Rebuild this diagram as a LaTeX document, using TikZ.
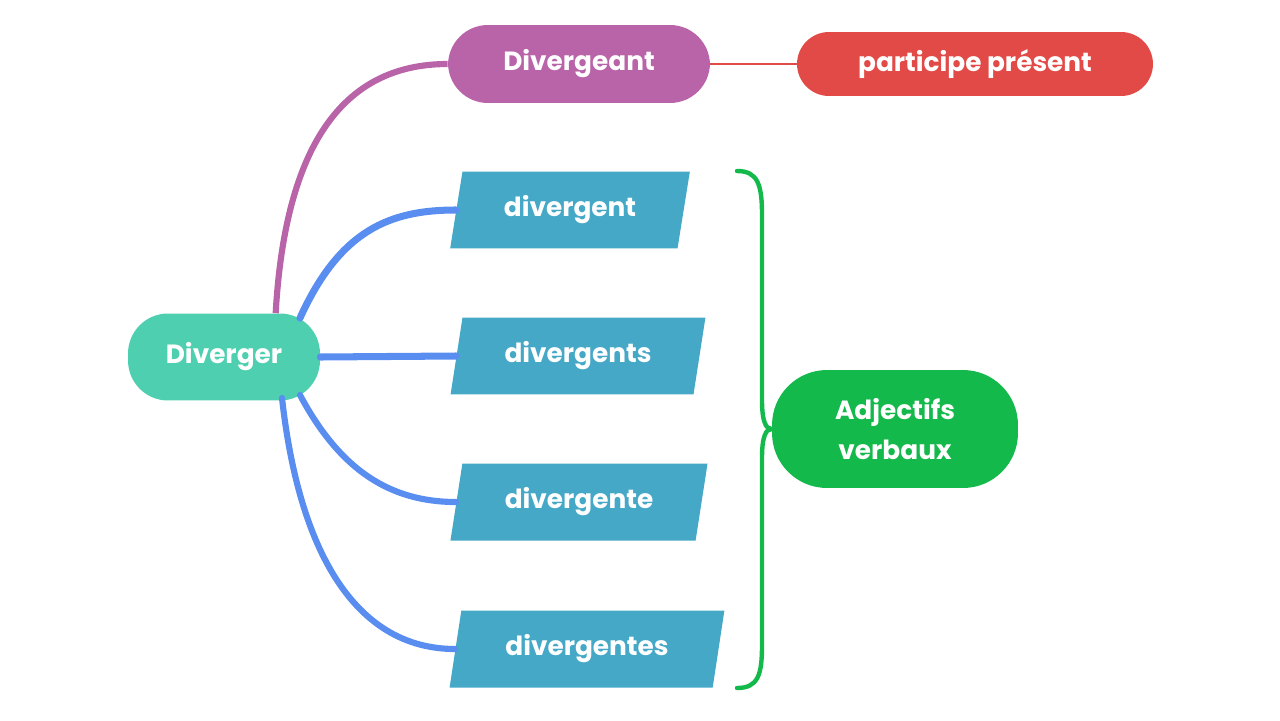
\documentclass[tikz,border=0pt]{standalone}
\usepackage{fontspec}
\setmainfont{Poppins}
\usetikzlibrary{shapes.geometric}
\definecolor{teal}{HTML}{4ECFB0}
\definecolor{violet}{HTML}{B963A8}
\definecolor{rouge}{HTML}{E24A47}
\definecolor{bleu}{HTML}{45A8C7}
\definecolor{lien}{HTML}{5A8DF0}
\definecolor{vert}{HTML}{14B94B}
\tikzset{
  txt/.style={text=white, font=\bfseries\fontsize{15}{19}\selectfont, align=center, inner sep=0pt},
  bulle/.style={txt, rounded corners=0.8cm, minimum height=1.6cm},
  forme/.style={txt, trapezium, trapezium left angle=75, trapezium right angle=105,
    trapezium stretches=true, fill=bleu, minimum height=1.54cm},
  branche/.style={lien, line cap=round}
}
\begin{document}
\begin{tikzpicture}[x=0.02cm, y=-0.02cm]
    \useasboundingbox (0,0) rectangle (1280,720);

    % main nodes
    \node[bulle, fill=teal, minimum width=3.84cm, minimum height=1.74cm] (dvr) at (224,357) {Diverger};
    \node[bulle, fill=violet, minimum width=5.24cm, minimum height=1.56cm] (dga) at (579,64) {Divergeant};
    \node[bulle, fill=rouge, minimum width=7.12cm, minimum height=1.28cm, rounded corners=0.64cm] (pp) at (975,64) {participe présent};
    \node[bulle, fill=vert, minimum width=4.92cm, minimum height=2.36cm, rounded corners=1.1cm] (adj) at (895,429) {Adjectifs\\[4pt]verbaux};

    % the four forms
    \node[forme, minimum width=4.8cm] (f1) at (570,210) {divergent};
    \node[forme, minimum width=5.12cm] (f2) at (578,356) {divergents};
    \node[forme, minimum width=5.16cm] (f3) at (579,502) {divergente};
    \node[forme, minimum width=5.5cm] (f4) at (587,649) {divergentes};

    % links
    \draw[violet, line width=3.5pt] (dvr.north west) ++(148,0) coordinate (p0)
        (p0) .. controls (285,150) and (340,64) .. (dga.west);
    \draw[rouge, line width=1.5pt] (dga.east) -- (pp.west);
    \draw[branche, line width=4pt] (300,318) .. controls (340,230) and (390,210) .. (f1.west);
    \draw[branche, line width=4pt] (dvr.east) -- (f2.west);
    \draw[branche, line width=3.5pt] (300,395) .. controls (340,470) and (390,502) .. (f3.west);
    \draw[branche, line width=3.5pt] (282,398) .. controls (300,560) and (360,649) .. (f4.west);

    % brace
    \coordinate (b1) at (737,171);
    \coordinate (b2) at (737,688);
    \draw[vert, line width=2.5pt, line cap=round]
        (b1) .. controls (758,171) and (762,185) .. (762,215) -- (762,400)
        .. controls (762,422) and (766,429) .. (adj.west)
        .. controls (766,429) and (762,436) .. (762,458) -- (762,645)
        .. controls (762,675) and (758,688) .. (b2);
\end{tikzpicture}
\end{document}
